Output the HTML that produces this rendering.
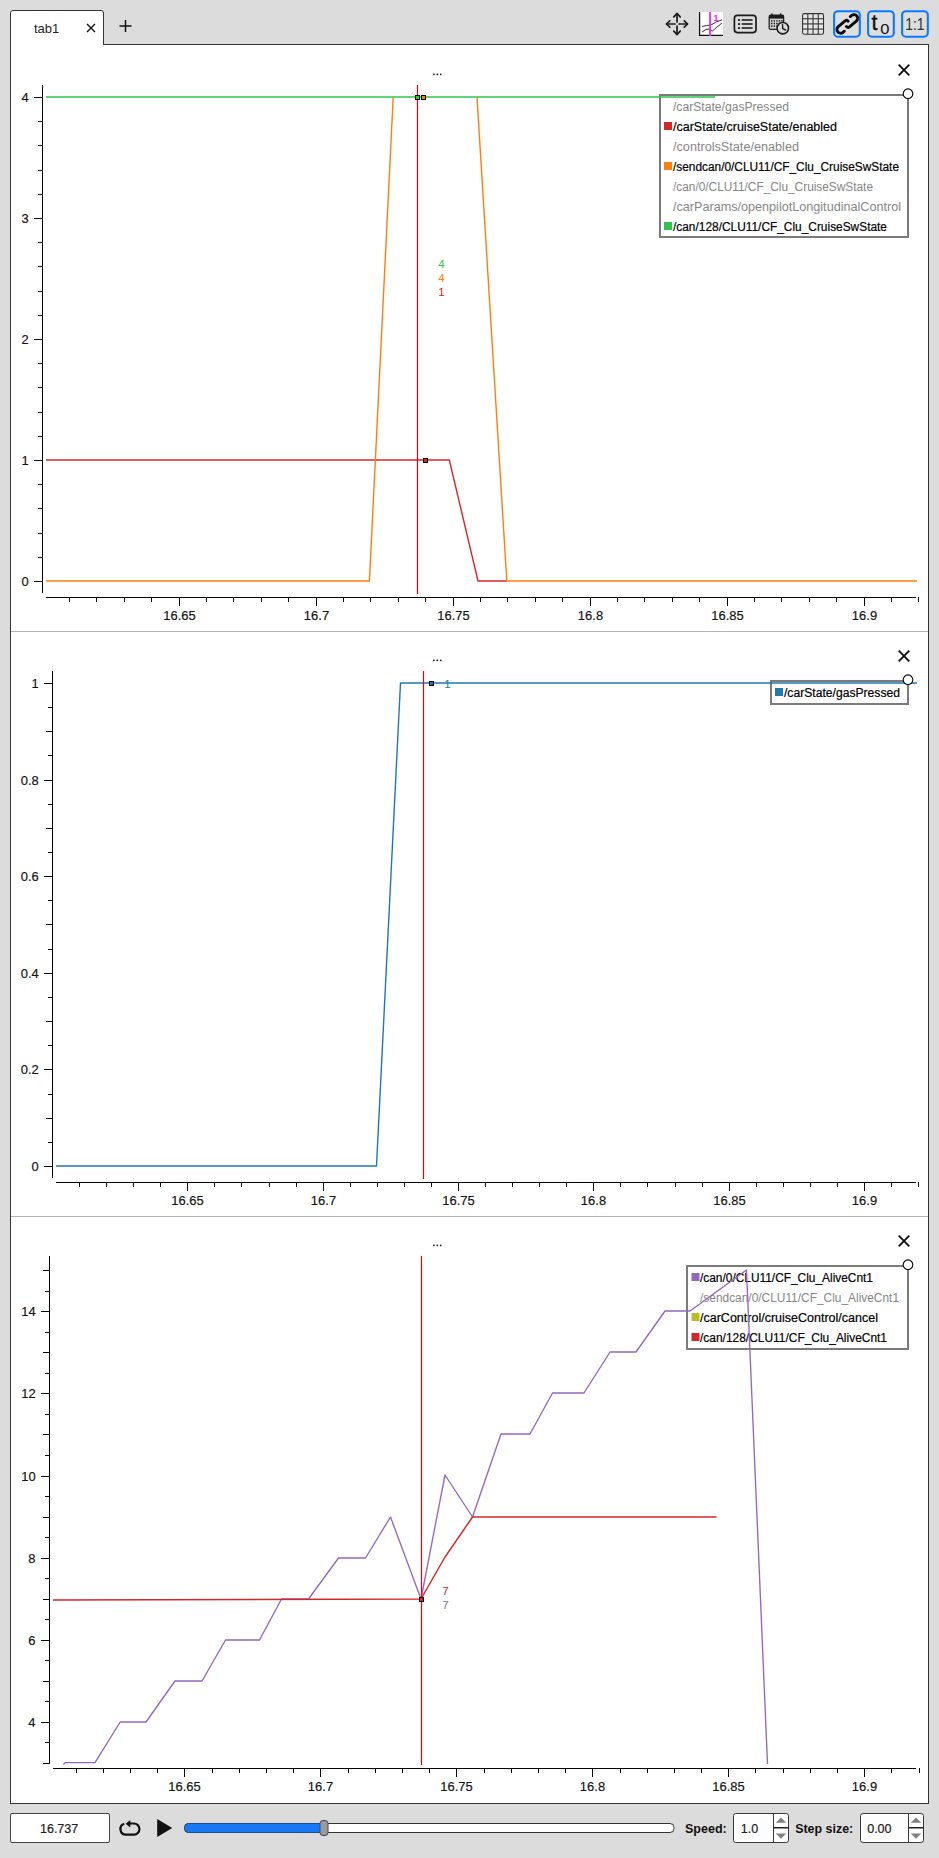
<!DOCTYPE html>
<html><head><meta charset="utf-8"><title>PlotJuggler</title>
<style>
html,body{margin:0;padding:0;background:#dcdcdc;}
body{width:939px;height:1858px;overflow:hidden;font-family:"Liberation Sans", sans-serif;}
svg{display:block;font-family:"Liberation Sans", sans-serif;}
text{white-space:pre;}
</style></head><body>
<svg width="939" height="1858" viewBox="0 0 939 1858">
<rect x="0" y="0" width="939" height="1858" fill="#dcdcdc"/>
<rect x="10.5" y="44.5" width="918" height="1759" fill="#fff" stroke="#333" stroke-width="1"/>
<path d="M10.5,45 V13 Q10.5,10.5 13,10.5 H101 Q103.5,10.5 103.5,13 V44.5" fill="#fff" stroke="#333" stroke-width="1"/>
<rect x="11" y="40" width="92" height="8" fill="#fff"/>
<text x="34" y="33" font-size="13" fill="#222" text-anchor="start" font-weight="normal" >tab1</text>
<path d="M87,24 L95,32 M95,24 L87,32" stroke="#111" stroke-width="1.4" fill="none"/>
<path d="M119.5,26 H131.5 M125.5,20 V32" stroke="#111" stroke-width="1.5" fill="none"/>
<g id="icons">
<g stroke="#1c1c1c" stroke-width="1.7" fill="none" stroke-linecap="round" stroke-linejoin="round">
<path d="M667,24 H675 M679,24 H687 M677,14 V22 M677,26 V34"/>
<path d="M673.8,16.8 L677,13.4 L680.2,16.8 M673.8,31.2 L677,34.6 L680.2,31.2 M669.8,20.8 L666.4,24 L669.8,27.2 M684.2,20.8 L687.6,24 L684.2,27.2"/>
</g>
<rect x="699" y="12" width="24" height="24" fill="#fff"/>
<path d="M699.6,12 V35.4 H723" stroke="#111" stroke-width="1.3" fill="none"/>
<path d="M702,26.5 L706.5,25.5 L711,25 L716,22 L722,19.8" stroke="#333" stroke-width="1" fill="none"/>
<path d="M702,32 L706,29.5 L709.5,29 L712.5,31 L717,27 L722,23" stroke="#333" stroke-width="1" fill="none"/>
<line x1="710" y1="12" x2="710" y2="36" stroke="#ff22ee" stroke-width="1.8"/>
<text x="713.2" y="20.6" font-size="9.6" fill="#ff22ee" text-anchor="start" font-weight="bold" >1</text>
<rect x="734.4" y="15.4" width="21.6" height="17.2" rx="3" ry="3" fill="none" stroke="#1c1c1c" stroke-width="1.7"/>
<rect x="738" y="19.1" width="1.9" height="1.9" fill="#1c1c1c"/>
<line x1="741.6" y1="20" x2="752.6" y2="20" stroke="#1c1c1c" stroke-width="1.6"/>
<rect x="738" y="23.1" width="1.9" height="1.9" fill="#1c1c1c"/>
<line x1="741.6" y1="24" x2="752.6" y2="24" stroke="#1c1c1c" stroke-width="1.6"/>
<rect x="738" y="27.1" width="1.9" height="1.9" fill="#1c1c1c"/>
<line x1="741.6" y1="28" x2="752.6" y2="28" stroke="#1c1c1c" stroke-width="1.6"/>
<g>
<rect x="769.2" y="15.2" width="14.4" height="14.2" rx="1.5" fill="#d0d0d0" stroke="#222" stroke-width="1.3"/>
<rect x="769" y="15" width="15" height="3.6" fill="#1c1c1c"/>
<line x1="772" y1="13.4" x2="772" y2="17" stroke="#1c1c1c" stroke-width="1.6"/>
<line x1="780.6" y1="13.4" x2="780.6" y2="17" stroke="#1c1c1c" stroke-width="1.6"/>
<rect x="771" y="20.2" width="1.4" height="1.4" fill="#1c1c1c"/>
<rect x="773.6" y="20.2" width="1.4" height="1.4" fill="#1c1c1c"/>
<rect x="776.2" y="20.2" width="1.4" height="1.4" fill="#1c1c1c"/>
<rect x="778.8" y="20.2" width="1.4" height="1.4" fill="#1c1c1c"/>
<rect x="781.2" y="20.2" width="1.4" height="1.4" fill="#1c1c1c"/>
<rect x="771" y="22.8" width="1.4" height="1.4" fill="#1c1c1c"/>
<rect x="773.6" y="22.8" width="1.4" height="1.4" fill="#1c1c1c"/>
<rect x="776.2" y="22.8" width="1.4" height="1.4" fill="#1c1c1c"/>
<rect x="778.8" y="22.8" width="1.4" height="1.4" fill="#1c1c1c"/>
<rect x="781.2" y="22.8" width="1.4" height="1.4" fill="#1c1c1c"/>
<rect x="771" y="25.4" width="1.4" height="1.4" fill="#1c1c1c"/>
<rect x="773.6" y="25.4" width="1.4" height="1.4" fill="#1c1c1c"/>
<rect x="776.2" y="25.4" width="1.4" height="1.4" fill="#1c1c1c"/>
<rect x="778.8" y="25.4" width="1.4" height="1.4" fill="#1c1c1c"/>
<rect x="781.2" y="25.4" width="1.4" height="1.4" fill="#1c1c1c"/>
<circle cx="782.8" cy="28.2" r="5.7" fill="#dcdcdc" stroke="#1c1c1c" stroke-width="1.6"/>
<path d="M782.6,24.6 V28.6 L785.6,30" stroke="#1c1c1c" stroke-width="1.4" fill="none" stroke-linecap="round"/>
</g>
<rect x="802.6" y="13.6" width="20.9" height="20.6" rx="1.8" fill="#e6e6e6" stroke="#333" stroke-width="1.1"/>
<line x1="807.82" y1="13.6" x2="807.82" y2="34.2" stroke="#333" stroke-width="1.1"/>
<line x1="802.6" y1="18.75" x2="823.5" y2="18.75" stroke="#333" stroke-width="1.1"/>
<line x1="813.0400000000001" y1="13.6" x2="813.0400000000001" y2="34.2" stroke="#333" stroke-width="1.1"/>
<line x1="802.6" y1="23.9" x2="823.5" y2="23.9" stroke="#333" stroke-width="1.1"/>
<line x1="818.26" y1="13.6" x2="818.26" y2="34.2" stroke="#333" stroke-width="1.1"/>
<line x1="802.6" y1="29.05" x2="823.5" y2="29.05" stroke="#333" stroke-width="1.1"/>
<rect x="834.1" y="11.2" width="25.7" height="25.5" rx="3.8" ry="3.8" fill="#dfdfdf" stroke="#0a7aff" stroke-width="2.1"/>
<rect x="868.1" y="11.2" width="25.7" height="25.5" rx="3.8" ry="3.8" fill="#dfdfdf" stroke="#0a7aff" stroke-width="2.1"/>
<rect x="902.1" y="11.2" width="25.7" height="25.5" rx="3.8" ry="3.8" fill="#dfdfdf" stroke="#0a7aff" stroke-width="2.1"/>
<g stroke="#0c0c0c" stroke-width="2.9" fill="none" stroke-linecap="round" stroke-linejoin="round">
<path transform="translate(847.3,23.9) rotate(-40)" d="M -7.0,3.7 L -8.7,3.7 A 3.7,3.7 0 0 1 -8.7,-3.7 L 0.3,-3.7 Q 2.3,-3.6 2.4,-1.5"/>
<path transform="translate(847.3,23.9) rotate(140)" d="M -7.0,3.7 L -8.7,3.7 A 3.7,3.7 0 0 1 -8.7,-3.7 L 0.3,-3.7 Q 2.3,-3.6 2.4,-1.5"/>
</g>
<text x="871.6" y="30" font-size="21.5" fill="#111" text-anchor="start" font-weight="normal" stroke="#111" stroke-width="0.4">t</text>
<text x="880.2" y="34" font-size="14" fill="#111" text-anchor="start" font-weight="normal" textLength="9.2" lengthAdjust="spacingAndGlyphs">0</text>
<text x="905.2" y="29.6" font-size="16.3" fill="#333" text-anchor="start" font-weight="normal" textLength="19.4" lengthAdjust="spacingAndGlyphs">1:1</text>
</g>
<g id="plot1">
<rect x="433.1" y="73.6" width="1.6" height="1.6" fill="#1a1a2a"/>
<rect x="436.5" y="73.6" width="1.6" height="1.6" fill="#1a1a2a"/>
<rect x="439.9" y="73.6" width="1.6" height="1.6" fill="#1a1a2a"/>
<path d="M898.7,64.7 L909.3,75.3 M909.3,64.7 L898.7,75.3" stroke="#111" stroke-width="1.9" fill="none"/>
<g shape-rendering="crispEdges">
<line x1="42.5" y1="85" x2="42.5" y2="593" stroke="#000" stroke-width="1" />
<line x1="38" y1="557.5" x2="43" y2="557.5" stroke="#000" stroke-width="1" />
<line x1="38" y1="533.5" x2="43" y2="533.5" stroke="#000" stroke-width="1" />
<line x1="38" y1="508.5" x2="43" y2="508.5" stroke="#000" stroke-width="1" />
<line x1="38" y1="484.5" x2="43" y2="484.5" stroke="#000" stroke-width="1" />
<line x1="38" y1="436.5" x2="43" y2="436.5" stroke="#000" stroke-width="1" />
<line x1="38" y1="412.5" x2="43" y2="412.5" stroke="#000" stroke-width="1" />
<line x1="38" y1="387.5" x2="43" y2="387.5" stroke="#000" stroke-width="1" />
<line x1="38" y1="363.5" x2="43" y2="363.5" stroke="#000" stroke-width="1" />
<line x1="38" y1="315.5" x2="43" y2="315.5" stroke="#000" stroke-width="1" />
<line x1="38" y1="291.5" x2="43" y2="291.5" stroke="#000" stroke-width="1" />
<line x1="38" y1="266.5" x2="43" y2="266.5" stroke="#000" stroke-width="1" />
<line x1="38" y1="242.5" x2="43" y2="242.5" stroke="#000" stroke-width="1" />
<line x1="38" y1="194.5" x2="43" y2="194.5" stroke="#000" stroke-width="1" />
<line x1="38" y1="170.5" x2="43" y2="170.5" stroke="#000" stroke-width="1" />
<line x1="38" y1="145.5" x2="43" y2="145.5" stroke="#000" stroke-width="1" />
<line x1="38" y1="121.5" x2="43" y2="121.5" stroke="#000" stroke-width="1" />
<line x1="34" y1="581.5" x2="43" y2="581.5" stroke="#000" stroke-width="1" />
<line x1="34" y1="460.5" x2="43" y2="460.5" stroke="#000" stroke-width="1" />
<line x1="34" y1="339.5" x2="43" y2="339.5" stroke="#000" stroke-width="1" />
<line x1="34" y1="218.5" x2="43" y2="218.5" stroke="#000" stroke-width="1" />
<line x1="34" y1="97.5" x2="43" y2="97.5" stroke="#000" stroke-width="1" />
</g>
<text x="28.7" y="585.8" font-size="12.4" fill="#141414" text-anchor="end" font-weight="normal" textLength="7.21" lengthAdjust="spacingAndGlyphs" stroke="#141414" stroke-width="0.18">0</text>
<text x="28.7" y="464.8" font-size="12.4" fill="#141414" text-anchor="end" font-weight="normal" textLength="7.21" lengthAdjust="spacingAndGlyphs" stroke="#141414" stroke-width="0.18">1</text>
<text x="28.7" y="343.8" font-size="12.4" fill="#141414" text-anchor="end" font-weight="normal" textLength="7.21" lengthAdjust="spacingAndGlyphs" stroke="#141414" stroke-width="0.18">2</text>
<text x="28.7" y="222.8" font-size="12.4" fill="#141414" text-anchor="end" font-weight="normal" textLength="7.21" lengthAdjust="spacingAndGlyphs" stroke="#141414" stroke-width="0.18">3</text>
<text x="28.7" y="101.8" font-size="12.4" fill="#141414" text-anchor="end" font-weight="normal" textLength="7.21" lengthAdjust="spacingAndGlyphs" stroke="#141414" stroke-width="0.18">4</text>
<g shape-rendering="crispEdges">
<line x1="46" y1="597.5" x2="916" y2="597.5" stroke="#000" stroke-width="1" />
<line x1="69.5" y1="597" x2="69.5" y2="602" stroke="#000" stroke-width="1" />
<line x1="96.5" y1="597" x2="96.5" y2="602" stroke="#000" stroke-width="1" />
<line x1="124.5" y1="597" x2="124.5" y2="602" stroke="#000" stroke-width="1" />
<line x1="151.5" y1="597" x2="151.5" y2="602" stroke="#000" stroke-width="1" />
<line x1="206.5" y1="597" x2="206.5" y2="602" stroke="#000" stroke-width="1" />
<line x1="233.5" y1="597" x2="233.5" y2="602" stroke="#000" stroke-width="1" />
<line x1="261.5" y1="597" x2="261.5" y2="602" stroke="#000" stroke-width="1" />
<line x1="288.5" y1="597" x2="288.5" y2="602" stroke="#000" stroke-width="1" />
<line x1="343.5" y1="597" x2="343.5" y2="602" stroke="#000" stroke-width="1" />
<line x1="370.5" y1="597" x2="370.5" y2="602" stroke="#000" stroke-width="1" />
<line x1="398.5" y1="597" x2="398.5" y2="602" stroke="#000" stroke-width="1" />
<line x1="425.5" y1="597" x2="425.5" y2="602" stroke="#000" stroke-width="1" />
<line x1="480.5" y1="597" x2="480.5" y2="602" stroke="#000" stroke-width="1" />
<line x1="507.5" y1="597" x2="507.5" y2="602" stroke="#000" stroke-width="1" />
<line x1="535.5" y1="597" x2="535.5" y2="602" stroke="#000" stroke-width="1" />
<line x1="562.5" y1="597" x2="562.5" y2="602" stroke="#000" stroke-width="1" />
<line x1="617.5" y1="597" x2="617.5" y2="602" stroke="#000" stroke-width="1" />
<line x1="644.5" y1="597" x2="644.5" y2="602" stroke="#000" stroke-width="1" />
<line x1="672.5" y1="597" x2="672.5" y2="602" stroke="#000" stroke-width="1" />
<line x1="699.5" y1="597" x2="699.5" y2="602" stroke="#000" stroke-width="1" />
<line x1="754.5" y1="597" x2="754.5" y2="602" stroke="#000" stroke-width="1" />
<line x1="781.5" y1="597" x2="781.5" y2="602" stroke="#000" stroke-width="1" />
<line x1="809.5" y1="597" x2="809.5" y2="602" stroke="#000" stroke-width="1" />
<line x1="836.5" y1="597" x2="836.5" y2="602" stroke="#000" stroke-width="1" />
<line x1="891.5" y1="597" x2="891.5" y2="602" stroke="#000" stroke-width="1" />
<line x1="918.5" y1="597" x2="918.5" y2="602" stroke="#000" stroke-width="1" />
<line x1="179.5" y1="597" x2="179.5" y2="606" stroke="#000" stroke-width="1" />
<line x1="316.5" y1="597" x2="316.5" y2="606" stroke="#000" stroke-width="1" />
<line x1="453.5" y1="597" x2="453.5" y2="606" stroke="#000" stroke-width="1" />
<line x1="590.5" y1="597" x2="590.5" y2="606" stroke="#000" stroke-width="1" />
<line x1="727.5" y1="597" x2="727.5" y2="606" stroke="#000" stroke-width="1" />
<line x1="864.5" y1="597" x2="864.5" y2="606" stroke="#000" stroke-width="1" />
</g>
<text x="179.5" y="620" font-size="12.4" fill="#141414" text-anchor="middle" font-weight="normal" textLength="32.42" lengthAdjust="spacingAndGlyphs" stroke="#141414" stroke-width="0.18">16.65</text>
<text x="316.5" y="620" font-size="12.4" fill="#141414" text-anchor="middle" font-weight="normal" textLength="25.22" lengthAdjust="spacingAndGlyphs" stroke="#141414" stroke-width="0.18">16.7</text>
<text x="453.5" y="620" font-size="12.4" fill="#141414" text-anchor="middle" font-weight="normal" textLength="32.42" lengthAdjust="spacingAndGlyphs" stroke="#141414" stroke-width="0.18">16.75</text>
<text x="590.5" y="620" font-size="12.4" fill="#141414" text-anchor="middle" font-weight="normal" textLength="25.22" lengthAdjust="spacingAndGlyphs" stroke="#141414" stroke-width="0.18">16.8</text>
<text x="727.5" y="620" font-size="12.4" fill="#141414" text-anchor="middle" font-weight="normal" textLength="32.42" lengthAdjust="spacingAndGlyphs" stroke="#141414" stroke-width="0.18">16.85</text>
<text x="864.5" y="620" font-size="12.4" fill="#141414" text-anchor="middle" font-weight="normal" textLength="25.22" lengthAdjust="spacingAndGlyphs" stroke="#141414" stroke-width="0.18">16.9</text>
<rect x="660" y="95" width="248" height="142" fill="#fff" stroke="#7b7b7b" stroke-width="2"/>
<text x="673" y="110.6" font-size="12.5" fill="#868686" text-anchor="start" font-weight="normal" textLength="116" lengthAdjust="spacingAndGlyphs">/carState/gasPressed</text>
<rect x="664" y="122" width="8" height="8" fill="#d62728"/>
<text x="673" y="130.6" font-size="12.5" fill="#000" text-anchor="start" font-weight="normal" textLength="164" lengthAdjust="spacingAndGlyphs" stroke="#000" stroke-width="0.2">/carState/cruiseState/enabled</text>
<text x="673" y="150.6" font-size="12.5" fill="#868686" text-anchor="start" font-weight="normal" textLength="126" lengthAdjust="spacingAndGlyphs">/controlsState/enabled</text>
<rect x="664" y="162" width="8" height="8" fill="#ff7f0e"/>
<text x="673" y="170.6" font-size="12.5" fill="#000" text-anchor="start" font-weight="normal" textLength="226" lengthAdjust="spacingAndGlyphs" stroke="#000" stroke-width="0.2">/sendcan/0/CLU11/CF_Clu_CruiseSwState</text>
<text x="673" y="190.6" font-size="12.5" fill="#868686" text-anchor="start" font-weight="normal" textLength="200" lengthAdjust="spacingAndGlyphs">/can/0/CLU11/CF_Clu_CruiseSwState</text>
<text x="673" y="210.6" font-size="12.5" fill="#868686" text-anchor="start" font-weight="normal" textLength="228" lengthAdjust="spacingAndGlyphs">/carParams/openpilotLongitudinalControl</text>
<rect x="664" y="222" width="8" height="8" fill="#2ec44e"/>
<text x="673" y="230.6" font-size="12.5" fill="#000" text-anchor="start" font-weight="normal" textLength="214" lengthAdjust="spacingAndGlyphs" stroke="#000" stroke-width="0.2">/can/128/CLU11/CF_Clu_CruiseSwState</text>
<polyline points="46,460 449.3,460 478,581 507,581" fill="none" stroke="#d62728" stroke-width="1.4" stroke-linejoin="round" />
<polyline points="46,581 369.4,581 393.2,97.3" fill="none" stroke="#ff7f0e" stroke-width="1.4" stroke-linejoin="round" />
<polyline points="477,97.3 506.8,581 917,581" fill="none" stroke="#ff7f0e" stroke-width="1.4" stroke-linejoin="round" />
<polyline points="46,97 715,97" fill="none" stroke="#2ec44e" stroke-width="1.7" stroke-linejoin="round" />
<line x1="417.5" y1="85" x2="417.5" y2="594" stroke="#e8000b" stroke-width="1.2" />
<rect x="415.5" y="95.5" width="4" height="4" fill="#2ec44e" stroke="#000" stroke-width="1" shape-rendering="crispEdges"/>
<rect x="421.5" y="95.5" width="4" height="4" fill="#ff7f0e" stroke="#000" stroke-width="1" shape-rendering="crispEdges"/>
<rect x="423.5" y="458.5" width="4" height="4" fill="#d62728" stroke="#000" stroke-width="1" shape-rendering="crispEdges"/>
<text x="441.5" y="268.2" font-size="11.5" fill="#2ec44e" text-anchor="middle" font-weight="normal" >4</text>
<text x="441.5" y="282.2" font-size="11.5" fill="#ff7f0e" text-anchor="middle" font-weight="normal" >4</text>
<text x="441.5" y="296.2" font-size="11.5" fill="#d62728" text-anchor="middle" font-weight="normal" >1</text>
<circle cx="908" cy="93.7" r="4.8" fill="#fff" stroke="#000" stroke-width="1.1"/>
</g>
<line x1="11" y1="631.5" x2="928" y2="631.5" stroke="#b4b4b4" stroke-width="1" shape-rendering="crispEdges"/>
<g id="plot2">
<rect x="433.1" y="659.6" width="1.6" height="1.6" fill="#1a1a2a"/>
<rect x="436.5" y="659.6" width="1.6" height="1.6" fill="#1a1a2a"/>
<rect x="439.9" y="659.6" width="1.6" height="1.6" fill="#1a1a2a"/>
<path d="M898.7,650.7 L909.3,661.3 M909.3,650.7 L898.7,661.3" stroke="#111" stroke-width="1.9" fill="none"/>
<g shape-rendering="crispEdges">
<line x1="52.5" y1="671" x2="52.5" y2="1178" stroke="#000" stroke-width="1" />
<line x1="48" y1="1142.5" x2="53" y2="1142.5" stroke="#000" stroke-width="1" />
<line x1="48" y1="1094.5" x2="53" y2="1094.5" stroke="#000" stroke-width="1" />
<line x1="48" y1="1045.5" x2="53" y2="1045.5" stroke="#000" stroke-width="1" />
<line x1="48" y1="997.5" x2="53" y2="997.5" stroke="#000" stroke-width="1" />
<line x1="48" y1="949.5" x2="53" y2="949.5" stroke="#000" stroke-width="1" />
<line x1="48" y1="900.5" x2="53" y2="900.5" stroke="#000" stroke-width="1" />
<line x1="48" y1="852.5" x2="53" y2="852.5" stroke="#000" stroke-width="1" />
<line x1="48" y1="804.5" x2="53" y2="804.5" stroke="#000" stroke-width="1" />
<line x1="48" y1="755.5" x2="53" y2="755.5" stroke="#000" stroke-width="1" />
<line x1="48" y1="707.5" x2="53" y2="707.5" stroke="#000" stroke-width="1" />
<line x1="46" y1="1118.5" x2="53" y2="1118.5" stroke="#000" stroke-width="1" />
<line x1="46" y1="1021.5" x2="53" y2="1021.5" stroke="#000" stroke-width="1" />
<line x1="46" y1="924.5" x2="53" y2="924.5" stroke="#000" stroke-width="1" />
<line x1="46" y1="828.5" x2="53" y2="828.5" stroke="#000" stroke-width="1" />
<line x1="46" y1="731.5" x2="53" y2="731.5" stroke="#000" stroke-width="1" />
<line x1="44" y1="1166.5" x2="53" y2="1166.5" stroke="#000" stroke-width="1" />
<line x1="44" y1="1069.5" x2="53" y2="1069.5" stroke="#000" stroke-width="1" />
<line x1="44" y1="973.5" x2="53" y2="973.5" stroke="#000" stroke-width="1" />
<line x1="44" y1="876.5" x2="53" y2="876.5" stroke="#000" stroke-width="1" />
<line x1="44" y1="780.5" x2="53" y2="780.5" stroke="#000" stroke-width="1" />
<line x1="44" y1="683.5" x2="53" y2="683.5" stroke="#000" stroke-width="1" />
</g>
<text x="38.8" y="1170.8" font-size="12.4" fill="#141414" text-anchor="end" font-weight="normal" textLength="7.21" lengthAdjust="spacingAndGlyphs" stroke="#141414" stroke-width="0.18">0</text>
<text x="38.8" y="1073.8" font-size="12.4" fill="#141414" text-anchor="end" font-weight="normal" textLength="18.01" lengthAdjust="spacingAndGlyphs" stroke="#141414" stroke-width="0.18">0.2</text>
<text x="38.8" y="977.8" font-size="12.4" fill="#141414" text-anchor="end" font-weight="normal" textLength="18.01" lengthAdjust="spacingAndGlyphs" stroke="#141414" stroke-width="0.18">0.4</text>
<text x="38.8" y="880.8" font-size="12.4" fill="#141414" text-anchor="end" font-weight="normal" textLength="18.01" lengthAdjust="spacingAndGlyphs" stroke="#141414" stroke-width="0.18">0.6</text>
<text x="38.8" y="784.8" font-size="12.4" fill="#141414" text-anchor="end" font-weight="normal" textLength="18.01" lengthAdjust="spacingAndGlyphs" stroke="#141414" stroke-width="0.18">0.8</text>
<text x="38.8" y="687.8" font-size="12.4" fill="#141414" text-anchor="end" font-weight="normal" textLength="7.21" lengthAdjust="spacingAndGlyphs" stroke="#141414" stroke-width="0.18">1</text>
<g shape-rendering="crispEdges">
<line x1="56" y1="1182.5" x2="916" y2="1182.5" stroke="#000" stroke-width="1" />
<line x1="79.5" y1="1182" x2="79.5" y2="1187" stroke="#000" stroke-width="1" />
<line x1="106.5" y1="1182" x2="106.5" y2="1187" stroke="#000" stroke-width="1" />
<line x1="133.5" y1="1182" x2="133.5" y2="1187" stroke="#000" stroke-width="1" />
<line x1="160.5" y1="1182" x2="160.5" y2="1187" stroke="#000" stroke-width="1" />
<line x1="214.5" y1="1182" x2="214.5" y2="1187" stroke="#000" stroke-width="1" />
<line x1="241.5" y1="1182" x2="241.5" y2="1187" stroke="#000" stroke-width="1" />
<line x1="269.5" y1="1182" x2="269.5" y2="1187" stroke="#000" stroke-width="1" />
<line x1="296.5" y1="1182" x2="296.5" y2="1187" stroke="#000" stroke-width="1" />
<line x1="350.5" y1="1182" x2="350.5" y2="1187" stroke="#000" stroke-width="1" />
<line x1="377.5" y1="1182" x2="377.5" y2="1187" stroke="#000" stroke-width="1" />
<line x1="404.5" y1="1182" x2="404.5" y2="1187" stroke="#000" stroke-width="1" />
<line x1="431.5" y1="1182" x2="431.5" y2="1187" stroke="#000" stroke-width="1" />
<line x1="485.5" y1="1182" x2="485.5" y2="1187" stroke="#000" stroke-width="1" />
<line x1="512.5" y1="1182" x2="512.5" y2="1187" stroke="#000" stroke-width="1" />
<line x1="539.5" y1="1182" x2="539.5" y2="1187" stroke="#000" stroke-width="1" />
<line x1="566.5" y1="1182" x2="566.5" y2="1187" stroke="#000" stroke-width="1" />
<line x1="620.5" y1="1182" x2="620.5" y2="1187" stroke="#000" stroke-width="1" />
<line x1="647.5" y1="1182" x2="647.5" y2="1187" stroke="#000" stroke-width="1" />
<line x1="675.5" y1="1182" x2="675.5" y2="1187" stroke="#000" stroke-width="1" />
<line x1="702.5" y1="1182" x2="702.5" y2="1187" stroke="#000" stroke-width="1" />
<line x1="756.5" y1="1182" x2="756.5" y2="1187" stroke="#000" stroke-width="1" />
<line x1="783.5" y1="1182" x2="783.5" y2="1187" stroke="#000" stroke-width="1" />
<line x1="810.5" y1="1182" x2="810.5" y2="1187" stroke="#000" stroke-width="1" />
<line x1="837.5" y1="1182" x2="837.5" y2="1187" stroke="#000" stroke-width="1" />
<line x1="891.5" y1="1182" x2="891.5" y2="1187" stroke="#000" stroke-width="1" />
<line x1="918.5" y1="1182" x2="918.5" y2="1187" stroke="#000" stroke-width="1" />
<line x1="187.5" y1="1182" x2="187.5" y2="1191" stroke="#000" stroke-width="1" />
<line x1="323.5" y1="1182" x2="323.5" y2="1191" stroke="#000" stroke-width="1" />
<line x1="458.5" y1="1182" x2="458.5" y2="1191" stroke="#000" stroke-width="1" />
<line x1="593.5" y1="1182" x2="593.5" y2="1191" stroke="#000" stroke-width="1" />
<line x1="729.5" y1="1182" x2="729.5" y2="1191" stroke="#000" stroke-width="1" />
<line x1="864.5" y1="1182" x2="864.5" y2="1191" stroke="#000" stroke-width="1" />
</g>
<text x="187.5" y="1205" font-size="12.4" fill="#141414" text-anchor="middle" font-weight="normal" textLength="32.42" lengthAdjust="spacingAndGlyphs" stroke="#141414" stroke-width="0.18">16.65</text>
<text x="323.5" y="1205" font-size="12.4" fill="#141414" text-anchor="middle" font-weight="normal" textLength="25.22" lengthAdjust="spacingAndGlyphs" stroke="#141414" stroke-width="0.18">16.7</text>
<text x="458.5" y="1205" font-size="12.4" fill="#141414" text-anchor="middle" font-weight="normal" textLength="32.42" lengthAdjust="spacingAndGlyphs" stroke="#141414" stroke-width="0.18">16.75</text>
<text x="593.5" y="1205" font-size="12.4" fill="#141414" text-anchor="middle" font-weight="normal" textLength="25.22" lengthAdjust="spacingAndGlyphs" stroke="#141414" stroke-width="0.18">16.8</text>
<text x="729.5" y="1205" font-size="12.4" fill="#141414" text-anchor="middle" font-weight="normal" textLength="32.42" lengthAdjust="spacingAndGlyphs" stroke="#141414" stroke-width="0.18">16.85</text>
<text x="864.5" y="1205" font-size="12.4" fill="#141414" text-anchor="middle" font-weight="normal" textLength="25.22" lengthAdjust="spacingAndGlyphs" stroke="#141414" stroke-width="0.18">16.9</text>
<rect x="771" y="681" width="137" height="23" fill="#fff" stroke="#7b7b7b" stroke-width="2"/>
<rect x="775" y="688" width="8" height="8" fill="#1f77b4"/>
<text x="784" y="696.6" font-size="12.5" fill="#000" text-anchor="start" font-weight="normal" textLength="116" lengthAdjust="spacingAndGlyphs" stroke="#000" stroke-width="0.2">/carState/gasPressed</text>
<polyline points="56,1166 376.5,1166 400.5,683 917,683" fill="none" stroke="#1f77b4" stroke-width="1.4" stroke-linejoin="round" />
<line x1="423.5" y1="671" x2="423.5" y2="1179" stroke="#e8000b" stroke-width="1.2" />
<rect x="429.5" y="681.5" width="4" height="4" fill="#1f77b4" stroke="#000" stroke-width="1" shape-rendering="crispEdges"/>
<text x="447.5" y="688" font-size="11.5" fill="#1f77b4" text-anchor="middle" font-weight="normal" >1</text>
<circle cx="908" cy="679.7" r="4.8" fill="#fff" stroke="#000" stroke-width="1.1"/>
</g>
<line x1="11" y1="1216.5" x2="928" y2="1216.5" stroke="#b4b4b4" stroke-width="1" shape-rendering="crispEdges"/>
<g id="plot3">
<rect x="433.1" y="1244.6" width="1.6" height="1.6" fill="#1a1a2a"/>
<rect x="436.5" y="1244.6" width="1.6" height="1.6" fill="#1a1a2a"/>
<rect x="439.9" y="1244.6" width="1.6" height="1.6" fill="#1a1a2a"/>
<path d="M898.7,1235.7 L909.3,1246.3 M909.3,1235.7 L898.7,1246.3" stroke="#111" stroke-width="1.9" fill="none"/>
<g shape-rendering="crispEdges">
<line x1="49.5" y1="1256" x2="49.5" y2="1764" stroke="#000" stroke-width="1" />
<line x1="45" y1="1742.5" x2="50" y2="1742.5" stroke="#000" stroke-width="1" />
<line x1="45" y1="1701.5" x2="50" y2="1701.5" stroke="#000" stroke-width="1" />
<line x1="45" y1="1660.5" x2="50" y2="1660.5" stroke="#000" stroke-width="1" />
<line x1="45" y1="1619.5" x2="50" y2="1619.5" stroke="#000" stroke-width="1" />
<line x1="45" y1="1578.5" x2="50" y2="1578.5" stroke="#000" stroke-width="1" />
<line x1="45" y1="1537.5" x2="50" y2="1537.5" stroke="#000" stroke-width="1" />
<line x1="45" y1="1496.5" x2="50" y2="1496.5" stroke="#000" stroke-width="1" />
<line x1="45" y1="1455.5" x2="50" y2="1455.5" stroke="#000" stroke-width="1" />
<line x1="45" y1="1414.5" x2="50" y2="1414.5" stroke="#000" stroke-width="1" />
<line x1="45" y1="1373.5" x2="50" y2="1373.5" stroke="#000" stroke-width="1" />
<line x1="45" y1="1332.5" x2="50" y2="1332.5" stroke="#000" stroke-width="1" />
<line x1="45" y1="1291.5" x2="50" y2="1291.5" stroke="#000" stroke-width="1" />
<line x1="43" y1="1763.5" x2="50" y2="1763.5" stroke="#000" stroke-width="1" />
<line x1="43" y1="1681.5" x2="50" y2="1681.5" stroke="#000" stroke-width="1" />
<line x1="43" y1="1599.5" x2="50" y2="1599.5" stroke="#000" stroke-width="1" />
<line x1="43" y1="1517.5" x2="50" y2="1517.5" stroke="#000" stroke-width="1" />
<line x1="43" y1="1434.5" x2="50" y2="1434.5" stroke="#000" stroke-width="1" />
<line x1="43" y1="1352.5" x2="50" y2="1352.5" stroke="#000" stroke-width="1" />
<line x1="43" y1="1270.5" x2="50" y2="1270.5" stroke="#000" stroke-width="1" />
<line x1="41" y1="1722.5" x2="50" y2="1722.5" stroke="#000" stroke-width="1" />
<line x1="41" y1="1640.5" x2="50" y2="1640.5" stroke="#000" stroke-width="1" />
<line x1="41" y1="1558.5" x2="50" y2="1558.5" stroke="#000" stroke-width="1" />
<line x1="41" y1="1476.5" x2="50" y2="1476.5" stroke="#000" stroke-width="1" />
<line x1="41" y1="1393.5" x2="50" y2="1393.5" stroke="#000" stroke-width="1" />
<line x1="41" y1="1311.5" x2="50" y2="1311.5" stroke="#000" stroke-width="1" />
</g>
<text x="35.6" y="1726.8" font-size="12.4" fill="#141414" text-anchor="end" font-weight="normal" textLength="7.21" lengthAdjust="spacingAndGlyphs" stroke="#141414" stroke-width="0.18">4</text>
<text x="35.6" y="1644.8" font-size="12.4" fill="#141414" text-anchor="end" font-weight="normal" textLength="7.21" lengthAdjust="spacingAndGlyphs" stroke="#141414" stroke-width="0.18">6</text>
<text x="35.6" y="1562.8" font-size="12.4" fill="#141414" text-anchor="end" font-weight="normal" textLength="7.21" lengthAdjust="spacingAndGlyphs" stroke="#141414" stroke-width="0.18">8</text>
<text x="35.6" y="1480.8" font-size="12.4" fill="#141414" text-anchor="end" font-weight="normal" textLength="14.41" lengthAdjust="spacingAndGlyphs" stroke="#141414" stroke-width="0.18">10</text>
<text x="35.6" y="1397.8" font-size="12.4" fill="#141414" text-anchor="end" font-weight="normal" textLength="14.41" lengthAdjust="spacingAndGlyphs" stroke="#141414" stroke-width="0.18">12</text>
<text x="35.6" y="1315.8" font-size="12.4" fill="#141414" text-anchor="end" font-weight="normal" textLength="14.41" lengthAdjust="spacingAndGlyphs" stroke="#141414" stroke-width="0.18">14</text>
<g shape-rendering="crispEdges">
<line x1="53" y1="1768.5" x2="916" y2="1768.5" stroke="#000" stroke-width="1" />
<line x1="76.5" y1="1768" x2="76.5" y2="1773" stroke="#000" stroke-width="1" />
<line x1="103.5" y1="1768" x2="103.5" y2="1773" stroke="#000" stroke-width="1" />
<line x1="130.5" y1="1768" x2="130.5" y2="1773" stroke="#000" stroke-width="1" />
<line x1="157.5" y1="1768" x2="157.5" y2="1773" stroke="#000" stroke-width="1" />
<line x1="212.5" y1="1768" x2="212.5" y2="1773" stroke="#000" stroke-width="1" />
<line x1="239.5" y1="1768" x2="239.5" y2="1773" stroke="#000" stroke-width="1" />
<line x1="266.5" y1="1768" x2="266.5" y2="1773" stroke="#000" stroke-width="1" />
<line x1="293.5" y1="1768" x2="293.5" y2="1773" stroke="#000" stroke-width="1" />
<line x1="348.5" y1="1768" x2="348.5" y2="1773" stroke="#000" stroke-width="1" />
<line x1="375.5" y1="1768" x2="375.5" y2="1773" stroke="#000" stroke-width="1" />
<line x1="402.5" y1="1768" x2="402.5" y2="1773" stroke="#000" stroke-width="1" />
<line x1="429.5" y1="1768" x2="429.5" y2="1773" stroke="#000" stroke-width="1" />
<line x1="484.5" y1="1768" x2="484.5" y2="1773" stroke="#000" stroke-width="1" />
<line x1="511.5" y1="1768" x2="511.5" y2="1773" stroke="#000" stroke-width="1" />
<line x1="538.5" y1="1768" x2="538.5" y2="1773" stroke="#000" stroke-width="1" />
<line x1="565.5" y1="1768" x2="565.5" y2="1773" stroke="#000" stroke-width="1" />
<line x1="620.5" y1="1768" x2="620.5" y2="1773" stroke="#000" stroke-width="1" />
<line x1="647.5" y1="1768" x2="647.5" y2="1773" stroke="#000" stroke-width="1" />
<line x1="674.5" y1="1768" x2="674.5" y2="1773" stroke="#000" stroke-width="1" />
<line x1="701.5" y1="1768" x2="701.5" y2="1773" stroke="#000" stroke-width="1" />
<line x1="755.5" y1="1768" x2="755.5" y2="1773" stroke="#000" stroke-width="1" />
<line x1="783.5" y1="1768" x2="783.5" y2="1773" stroke="#000" stroke-width="1" />
<line x1="810.5" y1="1768" x2="810.5" y2="1773" stroke="#000" stroke-width="1" />
<line x1="837.5" y1="1768" x2="837.5" y2="1773" stroke="#000" stroke-width="1" />
<line x1="891.5" y1="1768" x2="891.5" y2="1773" stroke="#000" stroke-width="1" />
<line x1="919.5" y1="1768" x2="919.5" y2="1773" stroke="#000" stroke-width="1" />
<line x1="184.5" y1="1768" x2="184.5" y2="1777" stroke="#000" stroke-width="1" />
<line x1="320.5" y1="1768" x2="320.5" y2="1777" stroke="#000" stroke-width="1" />
<line x1="456.5" y1="1768" x2="456.5" y2="1777" stroke="#000" stroke-width="1" />
<line x1="592.5" y1="1768" x2="592.5" y2="1777" stroke="#000" stroke-width="1" />
<line x1="728.5" y1="1768" x2="728.5" y2="1777" stroke="#000" stroke-width="1" />
<line x1="864.5" y1="1768" x2="864.5" y2="1777" stroke="#000" stroke-width="1" />
</g>
<text x="184.5" y="1791" font-size="12.4" fill="#141414" text-anchor="middle" font-weight="normal" textLength="32.42" lengthAdjust="spacingAndGlyphs" stroke="#141414" stroke-width="0.18">16.65</text>
<text x="320.5" y="1791" font-size="12.4" fill="#141414" text-anchor="middle" font-weight="normal" textLength="25.22" lengthAdjust="spacingAndGlyphs" stroke="#141414" stroke-width="0.18">16.7</text>
<text x="456.5" y="1791" font-size="12.4" fill="#141414" text-anchor="middle" font-weight="normal" textLength="32.42" lengthAdjust="spacingAndGlyphs" stroke="#141414" stroke-width="0.18">16.75</text>
<text x="592.5" y="1791" font-size="12.4" fill="#141414" text-anchor="middle" font-weight="normal" textLength="25.22" lengthAdjust="spacingAndGlyphs" stroke="#141414" stroke-width="0.18">16.8</text>
<text x="728.5" y="1791" font-size="12.4" fill="#141414" text-anchor="middle" font-weight="normal" textLength="32.42" lengthAdjust="spacingAndGlyphs" stroke="#141414" stroke-width="0.18">16.85</text>
<text x="864.5" y="1791" font-size="12.4" fill="#141414" text-anchor="middle" font-weight="normal" textLength="25.22" lengthAdjust="spacingAndGlyphs" stroke="#141414" stroke-width="0.18">16.9</text>
<rect x="687" y="1266" width="221" height="83" fill="#fff" stroke="#7b7b7b" stroke-width="2"/>
<rect x="691.5" y="1273" width="8" height="8" fill="#9467bd"/>
<text x="700" y="1281.6" font-size="12.5" fill="#000" text-anchor="start" font-weight="normal" textLength="173" lengthAdjust="spacingAndGlyphs" stroke="#000" stroke-width="0.2">/can/0/CLU11/CF_Clu_AliveCnt1</text>
<text x="700" y="1301.6" font-size="12.5" fill="#868686" text-anchor="start" font-weight="normal" textLength="199" lengthAdjust="spacingAndGlyphs">/sendcan/0/CLU11/CF_Clu_AliveCnt1</text>
<rect x="691.5" y="1313" width="8" height="8" fill="#bcbd22"/>
<text x="700" y="1321.6" font-size="12.5" fill="#000" text-anchor="start" font-weight="normal" textLength="178" lengthAdjust="spacingAndGlyphs" stroke="#000" stroke-width="0.2">/carControl/cruiseControl/cancel</text>
<rect x="691.5" y="1333" width="8" height="8" fill="#d62728"/>
<text x="700" y="1341.6" font-size="12.5" fill="#000" text-anchor="start" font-weight="normal" textLength="187" lengthAdjust="spacingAndGlyphs" stroke="#000" stroke-width="0.2">/can/128/CLU11/CF_Clu_AliveCnt1</text>
<polyline points="63.4,1764.5 65.2,1762.6 95,1762.6 120.2,1722 146,1722 175,1681 202,1681 225.5,1640 259.5,1640 281.5,1599 308.5,1599 338.5,1558 365.5,1558 390.5,1517 421,1599 445,1475 472.5,1517 501,1434 530,1434 552.5,1393 584,1393 610,1352 636,1352 665,1311 690,1311 746.5,1270 767.5,1764" fill="none" stroke="#9467bd" stroke-width="1.35" stroke-linejoin="round" />
<polyline points="53,1600 421,1599 444.7,1557.5 472.5,1517 716.5,1517" fill="none" stroke="#d62728" stroke-width="1.45" stroke-linejoin="round" />
<line x1="421.5" y1="1256" x2="421.5" y2="1765" stroke="#e8000b" stroke-width="1.2" />
<rect x="419.5" y="1597.5" width="4" height="4" fill="#d62728" stroke="#000" stroke-width="1" shape-rendering="crispEdges"/>
<text x="445.5" y="1595.1" font-size="11.5" fill="#d62728" text-anchor="middle" font-weight="normal" >7</text>
<text x="445.5" y="1609.1" font-size="11.5" fill="#9467bd" text-anchor="middle" font-weight="normal" >7</text>
<circle cx="908" cy="1264.7" r="4.8" fill="#fff" stroke="#000" stroke-width="1.1"/>
</g>
<g id="bottom">
<rect x="10.5" y="1813.5" width="99" height="29" rx="1.5" fill="#fff" stroke="#444" stroke-width="1"/>
<text x="40" y="1833" font-size="12.7" fill="#222" text-anchor="start" font-weight="normal" textLength="38.2" lengthAdjust="spacingAndGlyphs" stroke="#222" stroke-width="0.2">16.737</text>
<path d="M128,1823.5 H133.9 A5.55,5.55 0 0 1 133.9,1834.6 H126 A5.55,5.55 0 0 1 124.2,1823.8" stroke="#111" stroke-width="2.2" fill="none" stroke-linecap="butt"/>
<path d="M125.6,1823.7 L130.3,1819.9 L130.3,1827.6 Z" fill="#111"/>
<path d="M157.2,1819 L172.2,1828 L157.2,1837 Z" fill="#111"/>
<rect x="184.5" y="1823.5" width="489.5" height="9" rx="4" ry="4" fill="#fff" stroke="#333" stroke-width="1"/>
<rect x="184.5" y="1823.5" width="141" height="9" rx="4" ry="4" fill="#1877f2" stroke="#1b4f94" stroke-width="1"/>
<rect x="320" y="1820.5" width="8" height="15" rx="3" ry="3" fill="#9a9a9a" stroke="#3d4a5c" stroke-width="1"/>
<text x="685" y="1832.5" font-size="12.5" fill="#111" text-anchor="start" font-weight="bold" textLength="41.8" lengthAdjust="spacingAndGlyphs">Speed:</text>
<rect x="733.5" y="1813.5" width="55.0" height="29" rx="2.2" fill="#fdfdfd" stroke="#3a3a3a" stroke-width="1"/>
<line x1="773.5" y1="1814" x2="773.5" y2="1842" stroke="#3a3a3a" stroke-width="1"/>
<rect x="773.5" y="1827" width="15.0" height="1.5" fill="#222"/>
<path d="M775.8,1822.7 L781.0,1817.4 L786.2,1822.7 Z" fill="#808080"/>
<path d="M775.8,1833.5 L781.0,1838.7 L786.2,1833.5 Z" fill="#808080"/>
<text x="740.8" y="1833" font-size="12.5" fill="#222" text-anchor="start" font-weight="normal" stroke="#222" stroke-width="0.2">1.0</text>
<text x="795.2" y="1832.5" font-size="12.5" fill="#111" text-anchor="start" font-weight="bold" textLength="58" lengthAdjust="spacingAndGlyphs">Step size:</text>
<rect x="860.5" y="1813.5" width="63.0" height="29" rx="2.2" fill="#fdfdfd" stroke="#3a3a3a" stroke-width="1"/>
<line x1="908.5" y1="1814" x2="908.5" y2="1842" stroke="#3a3a3a" stroke-width="1"/>
<rect x="908.5" y="1827" width="15.0" height="1.5" fill="#222"/>
<path d="M910.8,1822.7 L916.0,1817.4 L921.2,1822.7 Z" fill="#808080"/>
<path d="M910.8,1833.5 L916.0,1838.7 L921.2,1833.5 Z" fill="#808080"/>
<text x="867.2" y="1833" font-size="12.5" fill="#222" text-anchor="start" font-weight="normal" stroke="#222" stroke-width="0.2">0.00</text>
</g>
</svg>
</body></html>
